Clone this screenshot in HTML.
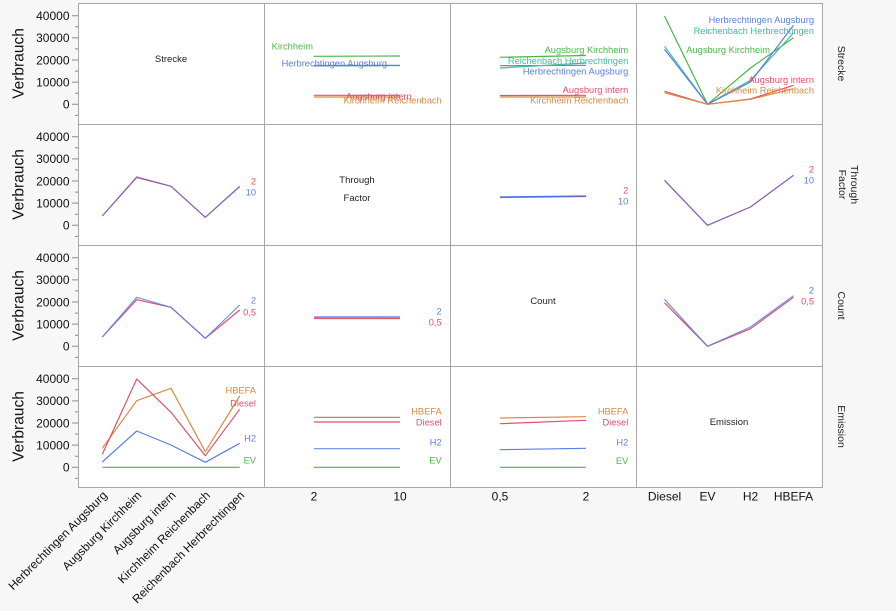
<!DOCTYPE html>
<html><head><meta charset="utf-8"><style>
html,body{margin:0;padding:0;background:#f7f7f7;}
svg{display:block;font-family:"Liberation Sans",Arial,sans-serif;}
.ax{stroke:#8c8c8c;stroke-width:1;fill:none;}
.tl{font-size:12px;fill:#111;text-anchor:end;}
.vb{font-size:15.5px;fill:#111;text-anchor:middle;dominant-baseline:central;}
.ln{fill:none;stroke-width:1.2;stroke-linejoin:round;}
.lb{font-size:9.3px;text-anchor:end;dominant-baseline:central;}
.dg{font-size:9.5px;fill:#222;text-anchor:middle;dominant-baseline:central;}
.rl{font-size:10.5px;fill:#222;text-anchor:middle;dominant-baseline:central;}
.bl{font-size:12px;fill:#111;text-anchor:middle;}
.rt{font-size:11.8px;fill:#111;text-anchor:end;}
</style></head><body>
<svg width="896" height="611" viewBox="0 0 896 611" xmlns="http://www.w3.org/2000/svg">
<rect x="0" y="0" width="896" height="611" fill="#f7f7f7"/>
<rect x="78.5" y="3.5" width="744" height="484" fill="#fff" stroke="#a8a8a8" stroke-width="1"/>
<g stroke="#a8a8a8" stroke-width="1">
<line x1="264.5" y1="3.5" x2="264.5" y2="487.5"/>
<line x1="450.5" y1="3.5" x2="450.5" y2="487.5"/>
<line x1="636.5" y1="3.5" x2="636.5" y2="487.5"/>
<line x1="78.5" y1="124.5" x2="822.5" y2="124.5"/>
<line x1="78.5" y1="245.5" x2="822.5" y2="245.5"/>
<line x1="78.5" y1="366.5" x2="822.5" y2="366.5"/>
</g>

<!-- Y axes -->
<g>
<path class="ax" d="M72,104.3H78M72,82.15H78M72,60H78M72,37.85H78M72,15.7H78M75,115.4H78M75,93.2H78M75,71.1H78M75,48.9H78M75,26.8H78"/>
<text class="tl" x="69.5" y="108.6">0</text>
<text class="tl" x="69.5" y="86.45">10000</text>
<text class="tl" x="69.5" y="64.3">20000</text>
<text class="tl" x="69.5" y="42.15">30000</text>
<text class="tl" x="69.5" y="20">40000</text>
<text class="vb" transform="translate(18.8,63.5) rotate(-90)">Verbrauch</text>
</g>
<g transform="translate(0,121)">
<path class="ax" d="M72,104.3H78M72,82.15H78M72,60H78M72,37.85H78M72,15.7H78M75,115.4H78M75,93.2H78M75,71.1H78M75,48.9H78M75,26.8H78"/>
<text class="tl" x="69.5" y="108.6">0</text>
<text class="tl" x="69.5" y="86.45">10000</text>
<text class="tl" x="69.5" y="64.3">20000</text>
<text class="tl" x="69.5" y="42.15">30000</text>
<text class="tl" x="69.5" y="20">40000</text>
<text class="vb" transform="translate(18.8,63.5) rotate(-90)">Verbrauch</text>
</g>
<g transform="translate(0,242)">
<path class="ax" d="M72,104.3H78M72,82.15H78M72,60H78M72,37.85H78M72,15.7H78M75,115.4H78M75,93.2H78M75,71.1H78M75,48.9H78M75,26.8H78"/>
<text class="tl" x="69.5" y="108.6">0</text>
<text class="tl" x="69.5" y="86.45">10000</text>
<text class="tl" x="69.5" y="64.3">20000</text>
<text class="tl" x="69.5" y="42.15">30000</text>
<text class="tl" x="69.5" y="20">40000</text>
<text class="vb" transform="translate(18.8,63.5) rotate(-90)">Verbrauch</text>
</g>
<g transform="translate(0,363)">
<path class="ax" d="M72,104.3H78M72,82.15H78M72,60H78M72,37.85H78M72,15.7H78M75,115.4H78M75,93.2H78M75,71.1H78M75,48.9H78M75,26.8H78"/>
<text class="tl" x="69.5" y="108.6">0</text>
<text class="tl" x="69.5" y="86.45">10000</text>
<text class="tl" x="69.5" y="64.3">20000</text>
<text class="tl" x="69.5" y="42.15">30000</text>
<text class="tl" x="69.5" y="20">40000</text>
<text class="vb" transform="translate(18.8,63.5) rotate(-90)">Verbrauch</text>
</g>

<!-- Row 1: Strecke -->
<text class="dg" x="171" y="59.7">Strecke</text>
<polyline class="ln" stroke="#4cb54c" points="314,56.3 400,56"/>
<polyline class="ln" stroke="#3dbf9c" points="314,65.9 400,65.6"/>
<polyline class="ln" stroke="#5a7fe3" points="314,65.5 400,65.3"/>
<polyline class="ln" stroke="#e2506a" points="314,95.3 400,95.3"/>
<polyline class="ln" stroke="#dc8a3e" points="314,97 400,97"/>
<text class="lb" fill="#4cb54c" x="313" y="46.7">Kirchheim</text>
<text class="lb" fill="#5a7fe3" x="387" y="63.3">Herbrechtingen Augsburg</text>
<text class="lb" fill="#e2506a" x="411.7" y="96.7">Augsburg intern</text>
<text class="lb" fill="#dc8a3e" x="441.7" y="100.7">Kirchheim Reichenbach</text>

<polyline class="ln" stroke="#4cb54c" points="500,57.3 586,55.5"/>
<polyline class="ln" stroke="#5a7fe3" points="500,65.7 586,65.3"/>
<polyline class="ln" stroke="#3dbf9c" points="500,68 586,63"/>
<polyline class="ln" stroke="#e2506a" points="500,95.5 586,95.3"/>
<polyline class="ln" stroke="#dc8a3e" points="500,97 586,97"/>
<text class="lb" fill="#4cb54c" x="628.3" y="50">Augsburg Kirchheim</text>
<text class="lb" fill="#3dbf9c" x="628.3" y="61">Reichenbach Herbrechtingen</text>
<text class="lb" fill="#5a7fe3" x="628.3" y="71.7">Herbrechtingen Augsburg</text>
<text class="lb" fill="#e2506a" x="628.3" y="90">Augsburg intern</text>
<text class="lb" fill="#dc8a3e" x="628.3" y="100.7">Kirchheim Reichenbach</text>

<polyline class="ln" stroke="#4cb54c" points="664.5,16 707.5,104.3 750.5,68 793.5,37.7"/>
<polyline class="ln" stroke="#3dbf9c" points="664.5,46.3 707.5,104.3 750.5,80.3 793.5,33"/>
<polyline class="ln" stroke="#5a7fe3" points="664.5,49.3 707.5,104.3 750.5,82 793.5,25.3"/>
<polyline class="ln" stroke="#e2506a" points="664.5,91.3 707.5,104.3 750.5,99 793.5,85.3"/>
<polyline class="ln" stroke="#dc8a3e" points="664.5,92.7 707.5,104.3 750.5,99.3 793.5,88.7"/>
<text class="lb" fill="#5a7fe3" x="814" y="20">Herbrechtingen Augsburg</text>
<text class="lb" fill="#3dbf9c" x="814" y="31">Reichenbach Herbrechtingen</text>
<text class="lb" fill="#4cb54c" x="770" y="50">Augsburg Kirchheim</text>
<text class="lb" fill="#e2506a" x="814" y="80">Augsburg intern</text>
<text class="lb" fill="#dc8a3e" x="814" y="90.7">Kirchheim Reichenbach</text>

<!-- Row 2: Through Factor -->
<polyline class="ln" stroke="#e2506a" points="102.3,216 136.7,177.5 171,186.3 205.3,217.3 239.7,186.7"/>
<polyline class="ln" stroke="#5a6fd8" stroke-opacity="0.7" points="102.3,216 136.7,176.8 171,186.2 205.3,217.3 239.7,186.2"/>
<text class="lb" fill="#e2506a" x="256" y="181.3">2</text>
<text class="lb" fill="#5a7fe3" x="256" y="192.3">10</text>
<text class="dg" x="357" y="180.3">Through</text>
<text class="dg" x="357" y="198.7">Factor</text>
<polyline class="ln" stroke="#e2506a" points="500,197.5 586,196.5"/>
<polyline class="ln" stroke="#4a6ee0" points="500,197 586,196"/>
<text class="lb" fill="#e2506a" x="628.3" y="190.7">2</text>
<text class="lb" fill="#5a7fe3" x="628.3" y="201.7">10</text>
<polyline class="ln" stroke="#e2506a" points="664.5,180.3 707.5,225.3 750.5,207 793.5,175.3"/>
<polyline class="ln" stroke="#5a6fd8" stroke-opacity="0.7" points="664.5,180.3 707.5,225.3 750.5,207 793.5,175.3"/>
<text class="lb" fill="#e2506a" x="814" y="169.3">2</text>
<text class="lb" fill="#5a7fe3" x="814" y="180.3">10</text>

<!-- Row 3: Count -->
<polyline class="ln" stroke="#e2506a" points="102.3,337 136.7,299.7 171,307.3 205.3,338.3 239.7,310"/>
<polyline class="ln" stroke="#5a7fe3" stroke-opacity="0.85" points="102.3,337 136.7,297.3 171,307.3 205.3,338.3 239.7,305"/>
<text class="lb" fill="#5a7fe3" x="256" y="300.7">2</text>
<text class="lb" fill="#e2506a" x="256" y="312.3">0,5</text>
<polyline class="ln" stroke="#4a6ee0" points="314,317 400,317"/>
<polyline class="ln" stroke="#e2506a" points="314,318.5 400,318.5"/>
<text class="lb" fill="#5a7fe3" x="441.7" y="311.3">2</text>
<text class="lb" fill="#e2506a" x="441.7" y="322.3">0,5</text>
<text class="dg" x="543" y="301.7">Count</text>
<polyline class="ln" stroke="#e2506a" points="664.5,302.7 707.5,346.3 750.5,328.7 793.5,297.3"/>
<polyline class="ln" stroke="#5a7fe3" stroke-opacity="0.85" points="664.5,299.3 707.5,346.3 750.5,327 793.5,295.7"/>
<text class="lb" fill="#5a7fe3" x="814" y="290.7">2</text>
<text class="lb" fill="#e2506a" x="814" y="301.7">0,5</text>

<!-- Row 4: Emission -->
<polyline class="ln" stroke="#4cb54c" points="102.3,467.3 239.7,467.3"/>
<polyline class="ln" stroke="#5a7fe3" points="102.3,462 136.7,431 171,445 205.3,462.3 239.7,443.3"/>
<polyline class="ln" stroke="#dc8a3e" points="102.3,448.3 136.7,400.7 171,388.3 205.3,451.7 239.7,396"/>
<polyline class="ln" stroke="#e2506a" points="102.3,454.3 136.7,379 171,412.3 205.3,455.7 239.7,409.3"/>
<text class="lb" fill="#dc8a3e" x="256" y="390.7">HBEFA</text>
<text class="lb" fill="#e2506a" x="256" y="403.3">Diesel</text>
<text class="lb" fill="#5a7fe3" x="256" y="438.7">H2</text>
<text class="lb" fill="#4cb54c" x="256" y="460.7">EV</text>
<polyline class="ln" stroke="#c27a36" points="314,417.3 400,417.3"/>
<polyline class="ln" stroke="#e2506a" points="314,422 400,422"/>
<polyline class="ln" stroke="#6d8ee6" stroke-width="1.8" points="314,448.7 400,448.7"/>
<polyline class="ln" stroke="#4cb54c" points="314,467.3 400,467.3"/>
<text class="lb" fill="#dc8a3e" x="441.7" y="411.7">HBEFA</text>
<text class="lb" fill="#e2506a" x="441.7" y="422.7">Diesel</text>
<text class="lb" fill="#5a7fe3" x="441.7" y="442.7">H2</text>
<text class="lb" fill="#4cb54c" x="441.7" y="460.7">EV</text>
<polyline class="ln" stroke="#dc8a3e" points="500,418 586,416.7"/>
<polyline class="ln" stroke="#e2506a" points="500,423.7 586,420.3"/>
<polyline class="ln" stroke="#5a7fe3" points="500,449.7 586,448.3"/>
<polyline class="ln" stroke="#4cb54c" points="500,467.3 586,467.3"/>
<text class="lb" fill="#dc8a3e" x="628.3" y="411.7">HBEFA</text>
<text class="lb" fill="#e2506a" x="628.3" y="422.7">Diesel</text>
<text class="lb" fill="#5a7fe3" x="628.3" y="442.7">H2</text>
<text class="lb" fill="#4cb54c" x="628.3" y="461">EV</text>
<text class="dg" x="729" y="422.3">Emission</text>

<!-- Right labels -->
<text class="rl" transform="translate(841,63.5) rotate(90)">Strecke</text>
<text class="rl" transform="translate(854,184.5) rotate(90)">Through</text>
<text class="rl" transform="translate(842,184.5) rotate(90)">Factor</text>
<text class="rl" transform="translate(841,305.5) rotate(90)">Count</text>
<text class="rl" transform="translate(841,426.5) rotate(90)">Emission</text>

<!-- Bottom labels -->
<text class="bl" x="314" y="500.3">2</text>
<text class="bl" x="400" y="500.3">10</text>
<text class="bl" x="500" y="500.3">0,5</text>
<text class="bl" x="586" y="500.3">2</text>
<text class="bl" x="664.5" y="500.3">Diesel</text>
<text class="bl" x="707.5" y="500.3">EV</text>
<text class="bl" x="750.5" y="500.3">H2</text>
<text class="bl" x="793.5" y="500.3">HBEFA</text>
<text class="rt" transform="translate(107.8,496) rotate(-45)">Herbrechtingen Augsburg</text>
<text class="rt" transform="translate(142.2,496) rotate(-45)">Augsburg Kirchheim</text>
<text class="rt" transform="translate(176.5,496) rotate(-45)">Augsburg intern</text>
<text class="rt" transform="translate(210.8,496) rotate(-45)">Kirchheim Reichenbach</text>
<text class="rt" transform="translate(245.2,496) rotate(-45)">Reichenbach Herbrechtingen</text>
</svg>
</body></html>
